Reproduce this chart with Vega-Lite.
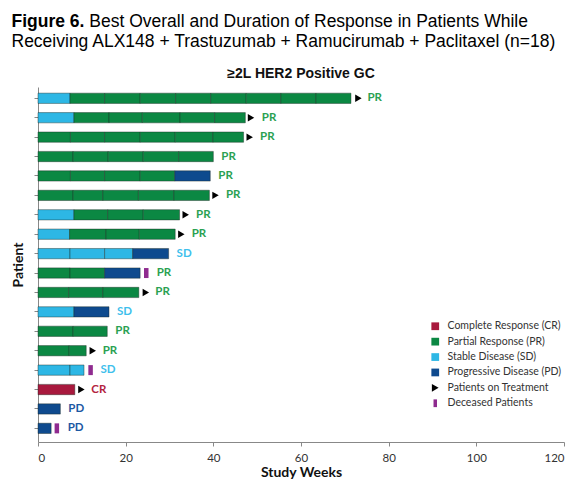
{
  "$schema": "https://vega.github.io/schema/vega-lite/v6.json",
  "background": "white",
  "padding": {"left": 11, "top": 13, "right": 5, "bottom": 5},
  "title": {
    "text": "Figure 6.",
    "subtitle": [
      "\u200b\u00a0\u00a0\u00a0\u00a0\u00a0\u00a0\u00a0\u00a0\u00a0\u00a0\u00a0\u00a0\u00a0\u00a0\u00a0\u00a0Best Overall and Duration of Response in Patients While",
      "Receiving ALX148 + Trastuzumab + Ramucirumab + Paclitaxel (n=18)"
    ],
    "anchor": "start",
    "font": "Liberation Sans",
    "fontSize": 17.5,
    "fontWeight": "bold",
    "color": "#000000",
    "lineHeight": 20,
    "subtitleFont": "Liberation Sans",
    "subtitleFontSize": 17.5,
    "subtitleFontWeight": "normal",
    "subtitleColor": "#000000",
    "subtitleLineHeight": 20,
    "subtitlePadding": -17.5,
    "offset": 16.5
  },
  "datasets": {
    "segments": [
      {"patient": 1, "start": 0, "end": 7.3, "category": "SD"},
      {"patient": 1, "start": 7.3, "end": 15.2, "category": "PR"},
      {"patient": 1, "start": 15.2, "end": 23.3, "category": "PR"},
      {"patient": 1, "start": 23.3, "end": 31.4, "category": "PR"},
      {"patient": 1, "start": 31.4, "end": 39.4, "category": "PR"},
      {"patient": 1, "start": 39.4, "end": 47.5, "category": "PR"},
      {"patient": 1, "start": 47.5, "end": 55.4, "category": "PR"},
      {"patient": 1, "start": 55.4, "end": 63.4, "category": "PR"},
      {"patient": 1, "start": 63.4, "end": 71.4, "category": "PR"},
      {"patient": 2, "start": 0, "end": 8.2, "category": "SD"},
      {"patient": 2, "start": 8.2, "end": 16.2, "category": "PR"},
      {"patient": 2, "start": 16.2, "end": 23.8, "category": "PR"},
      {"patient": 2, "start": 23.8, "end": 32.4, "category": "PR"},
      {"patient": 2, "start": 32.4, "end": 40.3, "category": "PR"},
      {"patient": 2, "start": 40.3, "end": 47.3, "category": "PR"},
      {"patient": 3, "start": 0, "end": 7.4, "category": "PR"},
      {"patient": 3, "start": 7.4, "end": 15.2, "category": "PR"},
      {"patient": 3, "start": 15.2, "end": 23.3, "category": "PR"},
      {"patient": 3, "start": 23.3, "end": 31.3, "category": "PR"},
      {"patient": 3, "start": 31.3, "end": 39.9, "category": "PR"},
      {"patient": 3, "start": 39.9, "end": 46.9, "category": "PR"},
      {"patient": 4, "start": 0, "end": 8.0, "category": "PR"},
      {"patient": 4, "start": 8.0, "end": 16.0, "category": "PR"},
      {"patient": 4, "start": 16.0, "end": 24.0, "category": "PR"},
      {"patient": 4, "start": 24.0, "end": 32.1, "category": "PR"},
      {"patient": 4, "start": 32.1, "end": 40.0, "category": "PR"},
      {"patient": 5, "start": 0, "end": 7.4, "category": "PR"},
      {"patient": 5, "start": 7.4, "end": 15.2, "category": "PR"},
      {"patient": 5, "start": 15.2, "end": 23.3, "category": "PR"},
      {"patient": 5, "start": 23.3, "end": 31.2, "category": "PR"},
      {"patient": 5, "start": 31.2, "end": 39.3, "category": "PD"},
      {"patient": 6, "start": 0, "end": 8.0, "category": "PR"},
      {"patient": 6, "start": 8.0, "end": 14.8, "category": "PR"},
      {"patient": 6, "start": 14.8, "end": 22.9, "category": "PR"},
      {"patient": 6, "start": 22.9, "end": 31.0, "category": "PR"},
      {"patient": 6, "start": 31.0, "end": 39.1, "category": "PR"},
      {"patient": 7, "start": 0, "end": 8.2, "category": "SD"},
      {"patient": 7, "start": 8.2, "end": 15.9, "category": "PR"},
      {"patient": 7, "start": 15.9, "end": 24.0, "category": "PR"},
      {"patient": 7, "start": 24.0, "end": 32.3, "category": "PR"},
      {"patient": 8, "start": 0, "end": 7.2, "category": "SD"},
      {"patient": 8, "start": 7.2, "end": 15.5, "category": "PR"},
      {"patient": 8, "start": 15.5, "end": 23.1, "category": "PR"},
      {"patient": 8, "start": 23.1, "end": 31.3, "category": "PR"},
      {"patient": 9, "start": 0, "end": 7.3, "category": "SD"},
      {"patient": 9, "start": 7.3, "end": 15.2, "category": "SD"},
      {"patient": 9, "start": 15.2, "end": 21.6, "category": "SD"},
      {"patient": 9, "start": 21.6, "end": 29.8, "category": "PD"},
      {"patient": 10, "start": 0, "end": 7.3, "category": "PR"},
      {"patient": 10, "start": 7.3, "end": 15.2, "category": "PR"},
      {"patient": 10, "start": 15.2, "end": 23.3, "category": "PD"},
      {"patient": 11, "start": 0, "end": 7.0, "category": "PR"},
      {"patient": 11, "start": 7.0, "end": 14.8, "category": "PR"},
      {"patient": 11, "start": 14.8, "end": 23.0, "category": "PR"},
      {"patient": 12, "start": 0, "end": 8.2, "category": "SD"},
      {"patient": 12, "start": 8.2, "end": 16.2, "category": "PD"},
      {"patient": 13, "start": 0, "end": 8.0, "category": "PR"},
      {"patient": 13, "start": 8.0, "end": 15.8, "category": "PR"},
      {"patient": 14, "start": 0, "end": 7.1, "category": "PR"},
      {"patient": 14, "start": 7.1, "end": 11.0, "category": "PR"},
      {"patient": 15, "start": 0, "end": 7.3, "category": "SD"},
      {"patient": 15, "start": 7.3, "end": 10.5, "category": "SD"},
      {"patient": 16, "start": 0, "end": 8.4, "category": "CR"},
      {"patient": 17, "start": 0, "end": 5.1, "category": "PD"},
      {"patient": 18, "start": 0, "end": 3.0, "category": "PD"}
    ],
    "patients": [
      {"patient": 1, "end": 71.4, "response": "PR", "marker": "ON", "markerWeek": 73.1},
      {"patient": 2, "end": 47.3, "response": "PR", "marker": "ON", "markerWeek": 48.6},
      {"patient": 3, "end": 46.9, "response": "PR", "marker": "ON", "markerWeek": 48.3},
      {"patient": 4, "end": 40.0, "response": "PR", "marker": null, "markerWeek": null},
      {"patient": 5, "end": 39.3, "response": "PR", "marker": null, "markerWeek": null},
      {"patient": 6, "end": 39.1, "response": "PR", "marker": "ON", "markerWeek": 40.5},
      {"patient": 7, "end": 32.3, "response": "PR", "marker": "ON", "markerWeek": 33.7},
      {"patient": 8, "end": 31.3, "response": "PR", "marker": "ON", "markerWeek": 32.7},
      {"patient": 9, "end": 29.8, "response": "SD", "marker": null, "markerWeek": null},
      {"patient": 10, "end": 23.3, "response": "PR", "marker": "DEC", "markerWeek": 24.7},
      {"patient": 11, "end": 23.0, "response": "PR", "marker": "ON", "markerWeek": 24.6},
      {"patient": 12, "end": 16.2, "response": "SD", "marker": null, "markerWeek": null},
      {"patient": 13, "end": 15.8, "response": "PR", "marker": null, "markerWeek": null},
      {"patient": 14, "end": 11.0, "response": "PR", "marker": "ON", "markerWeek": 12.5},
      {"patient": 15, "end": 10.5, "response": "SD", "marker": "DEC", "markerWeek": 12.0},
      {"patient": 16, "end": 8.4, "response": "CR", "marker": "ON", "markerWeek": 9.9},
      {"patient": 17, "end": 5.1, "response": "PD", "marker": null, "markerWeek": null},
      {"patient": 18, "end": 3.0, "response": "PD", "marker": "DEC", "markerWeek": 4.3}
    ]
  },
  "vconcat": [
    {
      "title": {
        "text": "≥2L HER2 Positive GC",
        "font": "Liberation Sans",
        "fontSize": 14,
        "fontWeight": "bold",
        "color": "#111111",
        "anchor": "middle",
        "offset": 6
      },
      "width": 526,
      "height": 355,
      "encoding": {
        "y": {
          "field": "patient",
          "type": "ordinal",
          "scale": {"paddingInner": 0.47, "paddingOuter": 0.377, "align": 0.42},
          "axis": {
            "title": "Patient",
            "labels": false,
            "ticks": true,
            "tickSize": 4,
            "tickColor": "#888888",
            "domainColor": "#888888",
            "titleFont": "Lato",
            "titleFontSize": 14,
            "titleFontWeight": "bold",
            "titleColor": "#111111",
            "titlePadding": 8
          }
        }
      },
      "layer": [
        {
          "data": {"name": "segments"},
          "mark": {"type": "bar", "stroke": "#1b2a22", "strokeWidth": 0.6, "strokeOpacity": 0.7},
          "encoding": {
            "x": {
              "field": "start",
              "type": "quantitative",
              "scale": {"domain": [0, 120], "nice": false},
              "axis": {
                "title": "Study Weeks",
                "values": [0, 20, 40, 60, 80, 100, 120],
                "grid": false,
                "tickSize": 4,
                "tickColor": "#888888",
                "domainColor": "#888888",
                "labelFont": "Lato",
                "labelFontSize": 11.5,
                "labelColor": "#333333",
                "labelPadding": 6,
                "titleFont": "Lato",
                "titleFontSize": 14,
                "titleFontWeight": "bold",
                "titleColor": "#111111",
                "titlePadding": 2
              }
            },
            "x2": {"field": "end"},
            "color": {
              "field": "category",
              "type": "nominal",
              "scale": {
                "domain": ["CR", "PR", "SD", "PD", "ON", "DEC"],
                "range": ["#a8193d", "#0b8843", "#2db7e5", "#0e4a8e", "#000000", "#8f2b8f"]
              },
              "legend": {
                "title": null,
                "orient": "none",
                "legendX": 392,
                "legendY": 234,
                "labelFont": "Lato",
                "labelFontSize": 10.5,
                "labelColor": "#333333",
                "symbolSize": 60,
                "symbolStrokeWidth": 0,
                "rowPadding": 4.4,
                "labelOffset": 7,
                "labelExpr": "{'CR': 'Complete Response (CR)', 'PR': 'Partial Response (PR)', 'SD': 'Stable Disease (SD)', 'PD': 'Progressive Disease (PD)', 'ON': 'Patients on Treatment', 'DEC': 'Deceased Patients'}[datum.label]"
              }
            }
          }
        },
        {
          "data": {"name": "patients"},
          "transform": [{"filter": "datum.marker === 'ON'"}],
          "mark": {"type": "point", "filled": true, "opacity": 1, "size": 55},
          "encoding": {
            "x": {"field": "markerWeek", "type": "quantitative"},
            "color": {"field": "marker", "type": "nominal"},
            "shape": {
              "field": "marker",
              "type": "nominal",
              "scale": {
                "domain": ["CR", "PR", "SD", "PD", "ON", "DEC"],
                "range": ["square", "square", "square", "square", "triangle-right", "M-0.45,-1L0.45,-1L0.45,1L-0.45,1Z"]
              },
              "legend": {"title": null}
            }
          }
        },
        {
          "data": {"name": "patients"},
          "transform": [{"filter": "datum.marker === 'DEC'"}],
          "mark": {"type": "point", "filled": true, "opacity": 1, "size": 100},
          "encoding": {
            "x": {"field": "markerWeek", "type": "quantitative"},
            "color": {"field": "marker", "type": "nominal"},
            "shape": {"field": "marker", "type": "nominal"}
          }
        },
        {
          "data": {"name": "patients"},
          "transform": [{"filter": "datum.marker !== null"}],
          "mark": {"type": "text", "align": "left", "baseline": "middle", "dx": 16.5, "font": "Lato", "fontSize": 11.5, "fontWeight": "bold"},
          "encoding": {
            "x": {"field": "end", "type": "quantitative"},
            "text": {"field": "response"},
            "fill": {
              "field": "response",
              "type": "nominal",
              "scale": {"domain": ["CR", "PR", "SD", "PD"], "range": ["#b3233f", "#2aa152", "#3fbfec", "#1c58a3"]},
              "legend": null
            }
          }
        },
        {
          "data": {"name": "patients"},
          "transform": [{"filter": "datum.marker === null"}],
          "mark": {"type": "text", "align": "left", "baseline": "middle", "dx": 8, "font": "Lato", "fontSize": 11.5, "fontWeight": "bold"},
          "encoding": {
            "x": {"field": "end", "type": "quantitative"},
            "text": {"field": "response"},
            "fill": {"field": "response", "type": "nominal", "legend": null}
          }
        }
      ]
    }
  ],
  "config": {
    "view": {"stroke": null},
    "font": "Lato"
  }
}
